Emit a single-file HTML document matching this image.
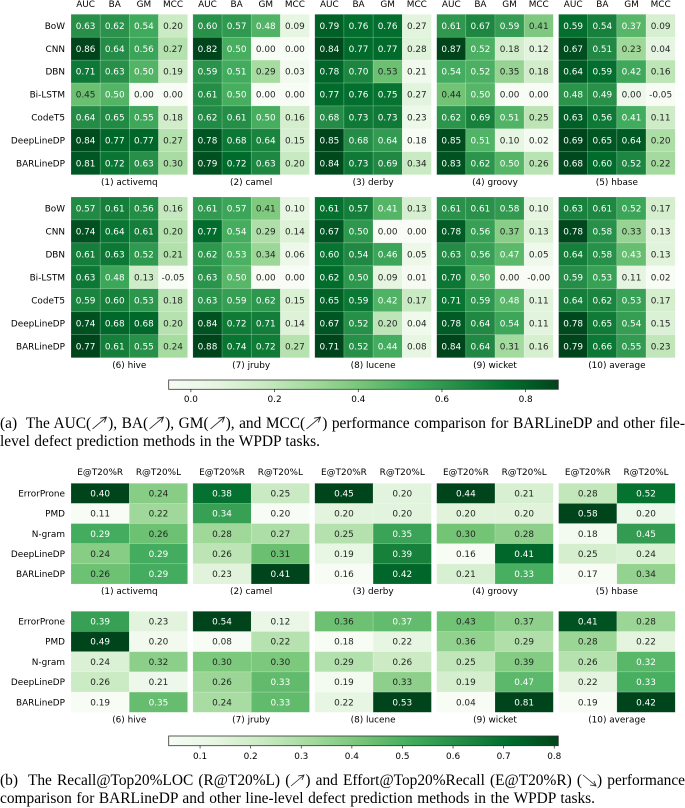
<!DOCTYPE html>
<html lang="en">
<head>
<meta charset="utf-8">
<title>Defect prediction heatmaps</title>
<style>
  html, body { margin: 0; padding: 0; background: #fff; }
  #page { position: relative; width: 685px; height: 808px; overflow: hidden; background: #fff; filter: blur(0.3px); }
  #chart { position: absolute; left: 0; top: 0; }
  #chart text { font-family: "DejaVu Sans", "Liberation Sans", sans-serif; font-size: 8.9px; }
  .cap { position: absolute; left: 0; width: 685px; font-family: "Liberation Serif", serif; font-size: 15.4px; line-height: 18px; color: #000; text-align: justify; text-align-last: justify; }
  .cap svg { display: inline-block; vertical-align: -2px; }
</style>
</head>
<body>
<div id="page">
  <svg id="chart" width="685" height="808" viewBox="0 0 685 808" xmlns="http://www.w3.org/2000/svg">
    <defs>
      <linearGradient id="greens-grad" x1="0" x2="1" y1="0" y2="0"></linearGradient>
    </defs>
  </svg>

  <div class="cap" style="top:415px">(a)&nbsp; The AUC(<svg width="17" height="14" viewBox="0 0 15 13"><path d="M1 12L14 1M8 2L14 1L12 6" fill="none" stroke="#222" stroke-width=".8"/></svg>), BA(<svg width="17" height="14" viewBox="0 0 15 13"><path d="M1 12L14 1M8 2L14 1L12 6" fill="none" stroke="#222" stroke-width=".8"/></svg>), GM(<svg width="17" height="14" viewBox="0 0 15 13"><path d="M1 12L14 1M8 2L14 1L12 6" fill="none" stroke="#222" stroke-width=".8"/></svg>), and MCC(<svg width="17" height="14" viewBox="0 0 15 13"><path d="M1 12L14 1M8 2L14 1L12 6" fill="none" stroke="#222" stroke-width=".8"/></svg>) performance comparison for BARLineDP and other file-</div>
  <div class="cap" style="top:433px;width:320px">level defect prediction methods in the WPDP tasks.</div>

  <div class="cap" style="top:772px">(b)&nbsp; The Recall@Top20%LOC (R@T20%L) (<svg width="15" height="13" viewBox="0 0 15 13"><path d="M1 12L14 1M8 2L14 1L12 6" fill="none" stroke="#222" stroke-width=".8"/></svg>) and Effort@Top20%Recall (E@T20%R) (<svg width="15" height="13" viewBox="0 0 15 13"><path d="M1 1L14 12M8 11L14 12L12 7" fill="none" stroke="#222" stroke-width=".8"/></svg>) performance</div>
  <div class="cap" style="top:790px;width:595px">comparison for BARLineDP and other line-level defect prediction methods in the WPDP tasks.</div>
</div>

<script>
const fileMethods = ['BoW', 'CNN', 'DBN', 'Bi-LSTM', 'CodeT5', 'DeepLineDP', 'BARLineDP'];
const fileMetrics = ['AUC', 'BA', 'GM', 'MCC'];
const lineMethods = ['ErrorProne', 'PMD', 'N-gram', 'DeepLineDP', 'BARLineDP'];
const lineMetrics = ['E@T20%R', 'R@T20%L'];
const projectTitles = ['(1) activemq', '(2) camel', '(3) derby', '(4) groovy', '(5) hbase', '(6) hive', '(7) jruby', '(8) lucene', '(9) wicket', '(10) average'];

const fileActivemq = [[.63,.62,.54,.20],[.86,.64,.56,.27],[.71,.63,.50,.19],[.45,.50,0,0],[.64,.65,.55,.18],[.84,.77,.77,.27],[.81,.72,.63,.30]];
const fileCamel = [[.60,.57,.48,.09],[.82,.50,0,0],[.59,.51,.29,.03],[.61,.50,0,0],[.62,.61,.50,.16],[.78,.68,.64,.15],[.79,.72,.63,.20]];
const fileDerby = [[.79,.76,.76,.27],[.84,.77,.77,.28],[.78,.70,.53,.21],[.77,.76,.75,.27],[.68,.73,.73,.23],[.85,.68,.64,.18],[.84,.73,.69,.34]];
const fileGroovy = [[.61,.67,.59,.41],[.87,.52,.18,.12],[.54,.52,.35,.18],[.44,.50,0,0],[.62,.69,.51,.25],[.85,.51,.10,.02],[.83,.62,.50,.26]];
const fileHbase = [[.59,.54,.37,.09],[.67,.51,.23,.04],[.64,.59,.42,.16],[.48,.49,0,-.05],[.63,.56,.41,.11],[.69,.65,.64,.20],[.68,.60,.52,.22]];
const fileHive = [[.57,.61,.56,.16],[.74,.64,.61,.20],[.61,.63,.52,.21],[.63,.48,.13,-.05],[.59,.60,.53,.18],[.74,.68,.68,.20],[.77,.61,.55,.24]];
const fileJruby = [[.61,.57,.41,.10],[.77,.54,.29,.14],[.62,.53,.34,.06],[.63,.50,0,0],[.63,.59,.62,.15],[.84,.72,.71,.14],[.88,.74,.72,.27]];
const fileLucene = [[.61,.57,.41,.13],[.67,.50,0,0],[.60,.54,.46,.05],[.62,.50,.09,.01],[.65,.59,.42,.17],[.67,.52,.20,.04],[.71,.52,.44,.08]];
const fileWicket = [[.61,.61,.58,.10],[.78,.56,.37,.13],[.63,.56,.47,.05],[.70,.50,0,-.001],[.71,.59,.48,.11],[.78,.64,.54,.11],[.84,.64,.31,.16]];
const fileAverage = [[.63,.61,.52,.17],[.78,.58,.33,.13],[.64,.58,.43,.13],[.59,.53,.11,.02],[.64,.62,.53,.17],[.78,.65,.54,.15],[.79,.66,.55,.23]];

const lineActivemq = [[.40,.24],[.11,.22],[.29,.26],[.24,.29],[.26,.29]];
const lineCamel = [[.38,.25],[.34,.20],[.28,.27],[.26,.31],[.23,.41]];
const lineDerby = [[.45,.20],[.20,.20],[.25,.35],[.19,.39],[.16,.42]];
const lineGroovy = [[.44,.21],[.20,.20],[.30,.28],[.16,.41],[.21,.33]];
const lineHbase = [[.28,.52],[.58,.20],[.18,.45],[.25,.24],[.17,.34]];
const lineHive = [[.39,.23],[.49,.20],[.24,.32],[.26,.21],[.19,.35]];
const lineJruby = [[.54,.12],[.08,.22],[.30,.30],[.26,.33],[.24,.33]];
const lineLucene = [[.36,.37],[.18,.22],[.29,.26],[.19,.33],[.22,.53]];
const lineWicket = [[.43,.37],[.36,.29],[.25,.39],[.19,.47],[.04,.81]];
const lineAverage = [[.41,.28],[.28,.22],[.26,.32],[.22,.33],[.19,.42]];

const fileColorbarTicks = [0, 0.2, 0.4, 0.6, 0.8];
const fileColorbarDomain = [-0.053, 0.878];
const lineColorbarTicks = [0.1, 0.2, 0.3, 0.4, 0.5, 0.6, 0.7, 0.8];
const lineColorbarDomain = [0.038, 0.808];

const greensStops = ['#f7fcf5', '#e5f5e0', '#c7e9c0', '#a1d99b', '#74c476', '#41ab5d', '#238b45', '#006d2c', '#00441b'];

const SVG_NS = 'http://www.w3.org/2000/svg';
const chart = document.getElementById('chart');

function svgEl(tag, attrs) {
  const el = document.createElementNS(SVG_NS, tag);
  for (const k in attrs) el.setAttribute(k, attrs[k]);
  return el;
}
function hexToRgb(h) {
  return [parseInt(h.slice(1, 3), 16), parseInt(h.slice(3, 5), 16), parseInt(h.slice(5, 7), 16)];
}
function greens(t) {
  const p = Math.max(0, Math.min(1, t)) * (greensStops.length - 1);
  const i = Math.min(Math.floor(p), greensStops.length - 2);
  const a = hexToRgb(greensStops[i]);
  const b = hexToRgb(greensStops[i + 1]);
  return a.map((v, k) => v + (b[k] - v) * (p - i));
}
function luminance(rgb) {
  const c = rgb.map(v => {
    const s = v / 255;
    return s <= 0.03928 ? s / 12.92 : Math.pow((s + 0.055) / 1.055, 2.4);
  });
  return 0.2126 * c[0] + 0.7152 * c[1] + 0.0722 * c[2];
}

const panelLeft = 71, panelStep = 121.9, panelWidth = 116.6;
function xBand(panelCol, col, nCols) {
  return panelLeft + panelCol * panelStep + col * panelWidth / nCols;
}
function yBand(top, bottom, row, nRows) {
  return top + row * (bottom - top) / nRows;
}

function drawPanel(matrix, title, panelCol, top, bottom, methods, metrics, showMethods, showMetrics, metricsY, titleY) {
  const nRows = methods.length, nCols = metrics.length;
  const flat = matrix.flat();
  const lo = Math.min(...flat), hi = Math.max(...flat);
  const g = svgEl('g', {});
  
  
  matrix.forEach((rowVals, r) => {
    rowVals.forEach((v, c) => {
      const x = xBand(panelCol, c, nCols);
      const y = yBand(top, bottom, r, nRows);
      const w = panelWidth / nCols;
      const h = (bottom - top) / nRows;
      const rgb = greens((v - lo) / (hi - lo));
      const rect = svgEl('rect', { x: x, y: y, width: w, height: h, fill: 'rgb(' + rgb.map(Math.round).join(',') + ')', stroke: 'rgba(255,255,255,.3)', 'stroke-width': 0.5 });
      
      
      g.appendChild(rect);
      const txt = svgEl('text', { x: x + w / 2, y: y + h / 2 + 3.1, 'text-anchor': 'middle', fill: luminance(rgb) > 0.408 ? '#262626' : '#ffffff' });
      
      
      txt.textContent = v.toFixed(2);
      g.appendChild(txt);
    });
  });
  if (showMethods) {
    methods.forEach((m, r) => {
      const lab = svgEl('text', { x: 65, y: yBand(top, bottom, r, nRows) + (bottom - top) / nRows / 2 + 3.1, 'text-anchor': 'end', fill: '#000' });
      
      
      lab.textContent = m;
      g.appendChild(lab);
    });
  }
  if (showMetrics) {
    metrics.forEach((m, c) => {
      const lab = svgEl('text', { x: xBand(panelCol, c, nCols) + panelWidth / nCols / 2, y: metricsY, 'text-anchor': 'middle', fill: '#000' });
      
      
      lab.textContent = m;
      g.appendChild(lab);
    });
  }
  const t = svgEl('text', { x: xBand(panelCol, 0, 1) + panelWidth / 2, y: titleY, 'text-anchor': 'middle', fill: '#000' });
  
  
  t.textContent = title;
  g.appendChild(t);
  chart.appendChild(g);
}

function drawColorbar(domain, ticks, top, bottom, labelY) {
  const left = 168.7, right = 558.3;
  const scale = v => left + (v - domain[0]) / (domain[1] - domain[0]) * (right - left);
  const g = svgEl('g', {});
  
  
  const bar = svgEl('rect', { x: left, y: top, width: right - left, height: bottom - top, fill: 'url(#greens-grad)', stroke: '#333', 'stroke-width': 0.8 });
  
  
  g.appendChild(bar);
  ticks.forEach(v => {
    const x = scale(v);
    const tick = svgEl('line', { x1: x, x2: x, y1: bottom, y2: bottom + 2.8, stroke: '#222', 'stroke-width': 0.7 });
    
    
    g.appendChild(tick);
    const lab = svgEl('text', { x: x, y: labelY, 'text-anchor': 'middle', fill: '#000' });
    
    
    lab.textContent = v.toFixed(1);
    g.appendChild(lab);
  });
  chart.appendChild(g);
}

const grad = document.getElementById('greens-grad');
greensStops.forEach((c, i) => {
  grad.appendChild(svgEl('stop', { offset: i / (greensStops.length - 1), 'stop-color': c }));
});

const fileMatrices = [fileActivemq, fileCamel, fileDerby, fileGroovy, fileHbase, fileHive, fileJruby, fileLucene, fileWicket, fileAverage];
const lineMatrices = [lineActivemq, lineCamel, lineDerby, lineGroovy, lineHbase, lineHive, lineJruby, lineLucene, lineWicket, lineAverage];

fileMatrices.forEach((m, i) => {
  const col = i % 5, second = i >= 5;
  drawPanel(m, projectTitles[i], col, second ? 197 : 14.3, second ? 357.7 : 174.7, fileMethods, fileMetrics, col === 0, !second, 6.8, second ? 368 : 185);
});
lineMatrices.forEach((m, i) => {
  const col = i % 5, second = i >= 5;
  drawPanel(m, projectTitles[i], col, second ? 611.3 : 483.3, second ? 712.3 : 584, lineMethods, lineMetrics, col === 0, !second, 475, second ? 722.3 : 594);
});
drawColorbar(fileColorbarDomain, fileColorbarTicks, 380, 389.3, 402);
drawColorbar(lineColorbarDomain, lineColorbarTicks, 736, 745.7, 759);
</script>
</body>
</html>
